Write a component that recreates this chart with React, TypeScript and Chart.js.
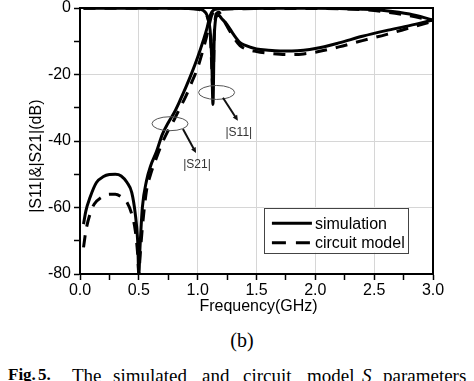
import React, { useEffect, useRef } from "react";
import { Chart, registerables } from "chart.js";

Chart.register(...registerables);

// ---- data (GHz, dB) ----
const freqS21Sim = [0.03, 0.05, 0.085, 0.14, 0.2, 0.25, 0.3, 0.35, 0.4, 0.44, 0.47, 0.49, 0.5, 0.51, 0.53, 0.565, 0.6, 0.65, 0.7, 0.75, 0.8, 0.85, 0.9, 0.95, 1.0, 1.05, 1.08, 1.1, 1.12, 1.15, 1.2, 1.4, 1.6, 1.8, 2.0, 2.2, 2.4, 2.6, 2.8, 3.0];
const s21Sim = [-65, -61, -57, -52.5, -50.7, -50.1, -50, -50.5, -52.5, -55.5, -62, -70, -80, -72, -60, -52, -47.5, -43.2, -38, -34.5, -31.5, -27.8, -23.8, -19.5, -14.8, -9.5, -6, -3, -1.2, -0.4, -0.2, -0.15, -0.1, -0.1, -0.1, -0.15, -0.35, -0.8, -1.8, -3.6];

const freqS21Mod = [0.03, 0.05, 0.085, 0.12, 0.18, 0.25, 0.3, 0.35, 0.4, 0.44, 0.47, 0.49, 0.5, 0.51, 0.53, 0.565, 0.6, 0.65, 0.7, 0.75, 0.8, 0.85, 0.9, 0.95, 1.0, 1.05, 1.08, 1.1, 1.12, 1.15, 1.2, 1.4, 1.6, 1.8, 2.0, 2.2, 2.4, 2.6, 2.8, 3.0];
const s21Mod = [-72, -67, -62, -59, -57, -56, -56, -56.8, -58.5, -62, -67, -74, -80, -75, -66, -55, -50, -45, -40.5, -36.8, -33.6, -30, -26.5, -22.3, -18, -12, -8, -4.8, -2.2, -0.8, -0.4, -0.2, -0.15, -0.15, -0.15, -0.25, -0.5, -1.2, -2.3, -3.8];

const freqS11 = [0.03, 0.2, 0.4, 0.6, 0.8, 0.9, 1.0, 1.05, 1.08, 1.1, 1.11, 1.12, 1.13, 1.14, 1.15, 1.16, 1.18, 1.2, 1.25, 1.3, 1.36, 1.4, 1.5, 1.6, 1.7, 1.8, 1.9, 2.0, 2.2, 2.4, 2.6, 2.8, 3.0];
const s11Sim = [-0.05, -0.05, -0.05, -0.05, -0.1, -0.15, -0.3, -0.8, -2.2, -5, -8.5, -16, -29, -10, -4, -2.5, -2.2, -3, -5, -7.7, -10.4, -11.2, -12.3, -12.7, -12.9, -12.9, -12.7, -12.2, -10.5, -8.5, -6.8, -5.3, -3.6];
const s11Mod = [-0.05, -0.05, -0.05, -0.05, -0.1, -0.15, -0.4, -1, -2.5, -5.5, -9.5, -18, -25, -9, -3, -1.6, -1.3, -2.2, -5.5, -8.5, -11.3, -12.2, -13.1, -13.6, -13.9, -14, -13.8, -13.3, -11.7, -9.8, -8, -6, -4];

const xTickLabels = ["0.0", "0.5", "1.0", "1.5", "2.0", "2.5", "3.0"];
const yTickLabels = ["-80", "-60", "-40", "-20", "0"];
const legendLabels = ["simulation", "circuit model"];
const xTitle = "Frequency(GHz)";
const yTitle = "|S11|&|S21|(dB)";
// annotation: [label, ellipse centre GHz, dB, arrow from GHz,dB, to GHz,dB, label GHz,dB]
const annS11 = ["|S11|", 1.161, -25.4, 1.215, -27, 1.342, -33.9, 1.35, -37.5];
const annS21 = ["|S21|", 0.765, -34.8, 0.875, -36.4, 0.986, -43.6, 0.994, -47];

const FONT = "Arial, 'Liberation Sans', sans-serif";

const toPts = (xs: number[], ys: number[]) => xs.map((x, i) => ({ x, y: ys[i] }));

const isMajorX = (v: number) => Math.abs(v * 2 - Math.round(v * 2)) < 1e-6;
const isMajorY = (v: number) => Math.abs(v / 20 - Math.round(v / 20)) < 1e-6;

const DASH = [12, 9];

const decorPlugin = {
  id: "decor",
  afterDatasetsDraw(chart: any) {
    const { ctx, scales } = chart;
    const xs = scales.x, ys = scales.y;
    ctx.save();
    for (const a of [annS11, annS21]) {
      const [label, ex, ey, ax1, ay1, ax2, ay2, lx, ly] = a as any[];
      const cx = xs.getPixelForValue(ex), cy = ys.getPixelForValue(ey);
      const rx = Math.abs(xs.getPixelForValue(ex + 0.153) - cx);
      const ry = Math.abs(ys.getPixelForValue(ey + 2.1) - cy);
      ctx.beginPath();
      ctx.ellipse(cx, cy, rx, ry, 0, 0, Math.PI * 2);
      ctx.strokeStyle = "#555";
      ctx.lineWidth = 1;
      ctx.stroke();
      const x1 = xs.getPixelForValue(ax1), y1 = ys.getPixelForValue(ay1);
      const x2 = xs.getPixelForValue(ax2), y2 = ys.getPixelForValue(ay2);
      const ang = Math.atan2(y2 - y1, x2 - x1);
      const hl = 6;
      ctx.beginPath();
      ctx.moveTo(x1, y1);
      ctx.lineTo(x2 - Math.cos(ang) * hl * 0.8, y2 - Math.sin(ang) * hl * 0.8);
      ctx.strokeStyle = "#111";
      ctx.lineWidth = 2;
      ctx.stroke();
      ctx.beginPath();
      ctx.moveTo(x2, y2);
      ctx.lineTo(x2 - hl * Math.cos(ang - 0.45), y2 - hl * Math.sin(ang - 0.45));
      ctx.lineTo(x2 - hl * Math.cos(ang + 0.45), y2 - hl * Math.sin(ang + 0.45));
      ctx.closePath();
      ctx.fillStyle = "#111";
      ctx.fill();
      ctx.font = `12px ${FONT}`;
      ctx.fillStyle = "#333";
      ctx.textAlign = "center";
      ctx.textBaseline = "middle";
      ctx.fillText(label, xs.getPixelForValue(lx), ys.getPixelForValue(ly));
    }
    ctx.restore();
  },
  afterDraw(chart: any) {
    const { ctx, chartArea: ca } = chart;
    const w = ca.right - ca.left, h = ca.bottom - ca.top;
    ctx.save();
    ctx.strokeStyle = "#000";
    ctx.lineWidth = 2;
    ctx.strokeRect(ca.left, ca.top, w, h);
    // legend
    const bl = ca.left + 0.521 * w, br = ca.left + 0.929 * w;
    const bt = ca.top + 0.75 * h, bb = ca.top + 0.92 * h;
    ctx.fillStyle = "#fff";
    ctx.fillRect(bl, bt, br - bl, bb - bt);
    ctx.strokeStyle = "#444";
    ctx.lineWidth = 1;
    ctx.strokeRect(Math.round(bl) + 0.5, Math.round(bt) + 0.5, Math.round(br - bl), Math.round(bb - bt));
    const rows = [bt + (bb - bt) * 0.35, bt + (bb - bt) * 0.78];
    ctx.font = `16px ${FONT}`;
    ctx.textAlign = "left";
    ctx.textBaseline = "middle";
    legendLabels.forEach((lab, i) => {
      ctx.beginPath();
      ctx.setLineDash(i === 0 ? [] : [14, 10]);
      ctx.lineWidth = 3;
      ctx.strokeStyle = "#000";
      ctx.moveTo(bl + 8, rows[i]);
      ctx.lineTo(bl + 48, rows[i]);
      ctx.stroke();
      ctx.setLineDash([]);
      ctx.fillStyle = "#000";
      ctx.fillText(lab, bl + 51, rows[i] + 1);
    });
    // axis titles
    ctx.font = `16px ${FONT}`;
    ctx.fillStyle = "#000";
    ctx.textAlign = "center";
    ctx.textBaseline = "middle";
    ctx.fillText(xTitle, ca.left + w / 2 + 2, ca.bottom + 33);
    ctx.translate(37, ca.top + 0.557 * h);
    ctx.rotate(-Math.PI / 2);
    ctx.fillText(yTitle, 0, 0);
    ctx.restore();
  },
};

export default function App() {
  const ref = useRef<HTMLCanvasElement | null>(null);
  useEffect(() => {
    if (!ref.current) return;
    const line = (data: any[], dashed: boolean) => ({
      data,
      borderColor: "#000",
      backgroundColor: "#000",
      borderWidth: 3,
      borderDash: dashed ? DASH : [],
      pointRadius: 0,
      cubicInterpolationMode: "monotone" as const,
      fill: false,
    });
    const chart = new Chart(ref.current, {
      type: "line",
      data: {
        datasets: [
          line(toPts(freqS21Mod, s21Mod), true),
          line(toPts(freqS11, s11Mod), true),
          line(toPts(freqS21Sim, s21Sim), false),
          line(toPts(freqS11, s11Sim), false),
        ],
      },
      options: {
        animation: false,
        responsive: false,
        maintainAspectRatio: false,
        layout: { padding: { top: 8, right: 41, left: 0, bottom: 0 }, autoPadding: false } as any,
        plugins: { legend: { display: false }, tooltip: { enabled: false } },
        scales: {
          x: {
            type: "linear",
            min: 0,
            max: 3,
            ticks: {
              stepSize: 0.25,
              autoSkip: false,
              maxRotation: 0,
              padding: 1,
              color: "#000",
              font: { size: 16, family: FONT },
              callback: (v: any) => {
                const n = Number(v);
                return isMajorX(n) ? xTickLabels[Math.round(n * 2)] : "";
              },
            },
            grid: {
              color: (c: any) => (isMajorX(c.tick.value) ? "#d6d6d6" : "rgba(0,0,0,0)"),
              tickColor: "#000",
              tickLength: 6,
              lineWidth: 1,
              tickWidth: 1.5,
            } as any,
            border: { color: "#000", width: 2 },
            afterFit: (s: any) => {
              s.height = 46;
              s.paddingLeft = 0;
              s.paddingRight = 0;
              s.paddingTop = 0;
              s.paddingBottom = 0;
            },
          },
          y: {
            type: "linear",
            min: -80,
            max: 0,
            ticks: {
              stepSize: 10,
              autoSkip: false,
              padding: 3,
              color: "#000",
              font: { size: 16, family: FONT },
              callback: (v: any) => {
                const n = Number(v);
                return isMajorY(n) ? yTickLabels[Math.round((n + 80) / 20)] : "";
              },
            },
            grid: {
              color: (c: any) => (isMajorY(c.tick.value) ? "#d6d6d6" : "rgba(0,0,0,0)"),
              tickColor: "#000",
              tickLength: 6,
              lineWidth: 1,
              tickWidth: 1.5,
            } as any,
            border: { color: "#000", width: 2 },
            afterFit: (s: any) => {
              s.width = 80;
              s.paddingLeft = 0;
              s.paddingRight = 0;
              s.paddingTop = 0;
              s.paddingBottom = 0;
            },
          },
        },
      },
      plugins: [decorPlugin],
    });
    return () => chart.destroy();
  }, []);

  const serif = "'Liberation Serif', 'Times New Roman', serif";
  const words: [string, number, any][] = [
    ["Fig.", 8, { fontWeight: "bold", fontSize: 17 }],
    ["5.", 38, { fontWeight: "bold", fontSize: 17 }],
    ["The", 72, {}],
    ["simulated", 113, {}],
    ["and", 202, {}],
    ["circuit", 243, {}],
    ["model", 307, {}],
    ["S", 362, { fontStyle: "italic" }],
    ["parameters", 383, {}],
  ];
  return (
    <div style={{ position: "fixed", left: 0, top: 0, width: 474, height: 381, overflow: "hidden", background: "#fff" }}>
      <canvas ref={ref} width={474} height={320} style={{ position: "absolute", left: 0, top: 0, width: 474, height: 320 }} />
      <div style={{ position: "absolute", left: 0, width: 484, top: 330, textAlign: "center", fontFamily: serif, fontSize: 20, lineHeight: 1 }}>(b)</div>
      {words.map(([t, x, st]) => (
        <span key={t} style={{ position: "absolute", left: x, top: 366, fontFamily: serif, fontSize: 19, lineHeight: 1, whiteSpace: "nowrap", ...st }}>{t}</span>
      ))}
    </div>
  );
}
